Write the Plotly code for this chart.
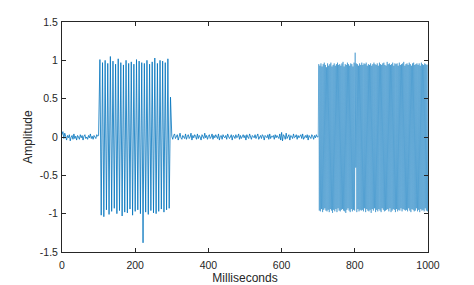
import numpy as np
import plotly.graph_objects as go

# ---- data (amplitude samples per segment) ----
seg_bounds_ms = [(0, 100), (100, 300), (300, 700), (700, 1000)]

noise_a = [0.03, 0.07, -0.02, 0.05, 0.01, -0.04, 0.02, -0.01, 0.03, -0.05, 0.00, 0.02, -0.03, 0.04,
           -0.02, 0.01, -0.04, 0.02, 0.00, -0.03, 0.03, -0.01, 0.02, -0.04, 0.01, 0.03, -0.02, 0.00,
           -0.03, 0.02, -0.01, 0.04, -0.02, 0.01, -0.03, 0.02, 0.00, -0.02, 0.03, 0.01]

burst_a = [0.02, 1.01, -1.02, 0.97, -1.04, 1.00, -0.95, 0.96, -1.01, 1.05, -0.97, 0.99, -0.93, 0.95,
           -1.00, 1.02, -0.96, 0.97, -1.03, 0.94, -0.98, 1.00, -0.99, 0.96, -0.94, 0.98, -1.02, 0.95,
           -0.97, 1.01, -0.95, 0.99, -1.00, 0.97, -1.38, 0.96, -0.98, 1.00, -1.01, 0.95, -0.96, 0.98,
           -0.99, 1.03, -1.00, 0.96, -0.97, 1.00, -0.94, 0.99, -0.98, 0.97, -0.95, 1.02, -0.93, 0.52, 0.01]

noise_b = [0.01, -0.03, 0.02, 0.04, -0.02, 0.00, 0.03, -0.04, 0.01, 0.05, -0.01, -0.03, 0.02, 0.00, -0.02, 0.04, -0.03, 0.01, 0.03, -0.02,
           0.00, 0.05, -0.04, 0.02, -0.01, 0.03, 0.01, -0.03, 0.04, -0.02, 0.02, 0.00, -0.04, 0.03, 0.01, -0.02, 0.05, -0.01, 0.02, -0.03,
           0.01, 0.03, -0.02, 0.00, 0.04, -0.03, 0.02, -0.01, 0.03, 0.00, -0.02, 0.04, -0.04, 0.01, 0.02, -0.03, 0.03, 0.00, -0.01, 0.02,
           -0.03, 0.04, 0.01, -0.02, 0.00, 0.03, -0.04, 0.02, 0.01, -0.02, 0.03, -0.01, 0.00, 0.04, -0.03, 0.02, -0.02, 0.01, 0.03, -0.01,
           0.02, -0.04, 0.03, 0.00, -0.02, 0.04, 0.01, -0.03, 0.02, 0.00, -0.01, 0.03, -0.02, 0.01, 0.04, -0.03, 0.00, 0.02, -0.02, 0.03,
           0.01, -0.04, 0.02, 0.00, -0.01, 0.03, -0.03, 0.04, -0.02, 0.01, 0.00, 0.02, -0.03, 0.03, -0.01, 0.02, 0.00, -0.02, 0.04, -0.04,
           0.06, -0.05, 0.03, 0.01, -0.03, 0.05, -0.02, 0.00, 0.03, -0.04, 0.02, 0.01, -0.02, 0.04, -0.01, 0.00, 0.03, -0.03, 0.02, -0.01,
           0.01, 0.03, -0.02, 0.04, -0.03, 0.00, 0.02, -0.01, 0.03, -0.04, 0.02, 0.00, -0.02, 0.03, 0.01, -0.03, 0.02, -0.01, 0.03, 0.00]

burst_b = [0.00, 0.95, -0.96, 0.93, -0.97, 0.96, -0.94, 0.92, -0.98, 0.95, -0.95, 0.97, -0.93, 0.94, -0.96, 0.91, -0.97, 0.96, -0.95, 0.93,
           -0.98, 0.95, -0.94, 0.97, -0.96, 0.92, -0.99, 0.94, -0.95, 0.96, -0.97, 0.93, -0.94, 0.95, -0.98, 0.97, -0.93, 0.94, -0.96, 0.95,
           -0.97, 0.93, -0.95, 0.96, -0.94, 0.98, -0.96, 0.92, -0.97, 0.95, -0.99, 0.94, -0.95, 0.97, -0.93, 0.95, -0.96, 0.93, -0.98, 0.96,
           -0.94, 0.95, -0.97, 0.92, -0.95, 0.97, -0.96, 1.10, -0.40, 0.96, -0.98, 0.95, -0.94, 0.93, -0.97, 0.96, -0.95, 0.94, -0.96, 0.97,
           -0.95, 0.94, -0.97, 0.96, -0.93, 0.95, -0.98, 0.97, -0.94, 0.93, -0.96, 0.95, -0.97, 0.94, -0.95, 0.96, -0.99, 0.93, -0.94, 0.95,
           -0.96, 0.97, -0.93, 0.95, -0.98, 0.94, -0.95, 0.96, -0.97, 0.93, -0.94, 0.97, -0.96, 0.95, -0.98, 0.94, -0.93, 0.96, -0.95, 0.97,
           -0.97, 0.94, -0.96, 0.93, -0.95, 0.98, -0.94, 0.95, -0.97, 0.96, -0.93, 0.94, -0.98, 0.95, -0.96, 0.97, -0.94, 0.93, -0.95, 0.96,
           -0.98, 0.95, -0.94, 0.96, -0.97, 0.93, -0.95, 0.97, -0.96, 0.94, -0.93, 0.95, -0.97, 0.96, -0.94, 0.98, -0.95, 0.93, -0.96, 0.95,
           -0.95, 0.96, -0.97, 0.94, -0.93, 0.97, -0.96, 0.95, -0.98, 0.93, -0.94, 0.96, -0.95, 0.97, -0.97, 0.94, -0.96, 0.95, -0.93, 0.96,
           -0.97, 0.94, -0.95, 0.96, -0.98, 0.93, -0.94, 0.97, -0.96, 0.95, -0.95, 0.94, -0.97, 0.96, -0.93, 0.95, -0.96, 0.94, -0.97, 0.95]

segments = [noise_a, burst_a, noise_b, burst_b]

x_ticks = [0, 200, 400, 600, 800, 1000]
y_ticks = [-1.5, -1, -0.5, 0, 0.5, 1, 1.5]
y_ticklabels = ["-1.5", "-1", "-0.5", "0", "0.5", "1", "1.5"]

# sample times for each segment (uniform sampling within each segment)
seg_t = []
for (t0, t1), vals in zip(seg_bounds_ms, segments):
    n = len(vals)
    t = np.linspace(t0, t1, n, endpoint=(t1 == 1000 or vals is burst_a))
    seg_t.append(t.tolist())

t_first = seg_t[0] + seg_t[1] + seg_t[2] + [seg_t[3][0]]
v_first = noise_a + burst_a + noise_b + [burst_b[0]]
t_last = seg_t[3]
v_last = burst_b

axis_col = "#262626"
font_fam = "Arial, 'Liberation Sans', Helvetica, sans-serif"

fig = go.Figure()
fig.add_trace(go.Scatter(x=t_first, y=v_first, mode="lines",
                         line=dict(color="#0072BD", width=0.8), hoverinfo="skip"))
fig.add_trace(go.Scatter(x=t_last, y=v_last, mode="lines",
                         line=dict(color="#0072BD", width=0.45), hoverinfo="skip"))

fig.update_layout(
    width=474, height=285,
    margin=dict(l=62, r=46, t=22, b=33),
    paper_bgcolor="white", plot_bgcolor="white",
    showlegend=False,
    font=dict(family=font_fam, color=axis_col, size=10.5),
)
fig.update_xaxes(range=[0, 1000], tickvals=x_ticks, ticks="inside", ticklen=4,
                 tickcolor=axis_col, showline=True, linecolor=axis_col, linewidth=1,
                 mirror="allticks", showgrid=False, zeroline=False, automargin=False,
                 ticklabelstandoff=3,
                 tickfont=dict(size=10.5, color=axis_col),
                 title=dict(text="Milliseconds", font=dict(size=12, color=axis_col), standoff=5))
fig.update_yaxes(range=[-1.5, 1.5], tickvals=y_ticks, ticktext=y_ticklabels, ticks="inside",
                 ticklen=4, tickcolor=axis_col, showline=True, linecolor=axis_col, linewidth=1,
                 mirror="allticks", showgrid=False, zeroline=False, automargin=False,
                 ticklabelstandoff=1,
                 tickfont=dict(size=10.5, color=axis_col),
                 title=dict(text="Amplitude", font=dict(size=12, color=axis_col), standoff=4))

fig.write_html("out.html")
